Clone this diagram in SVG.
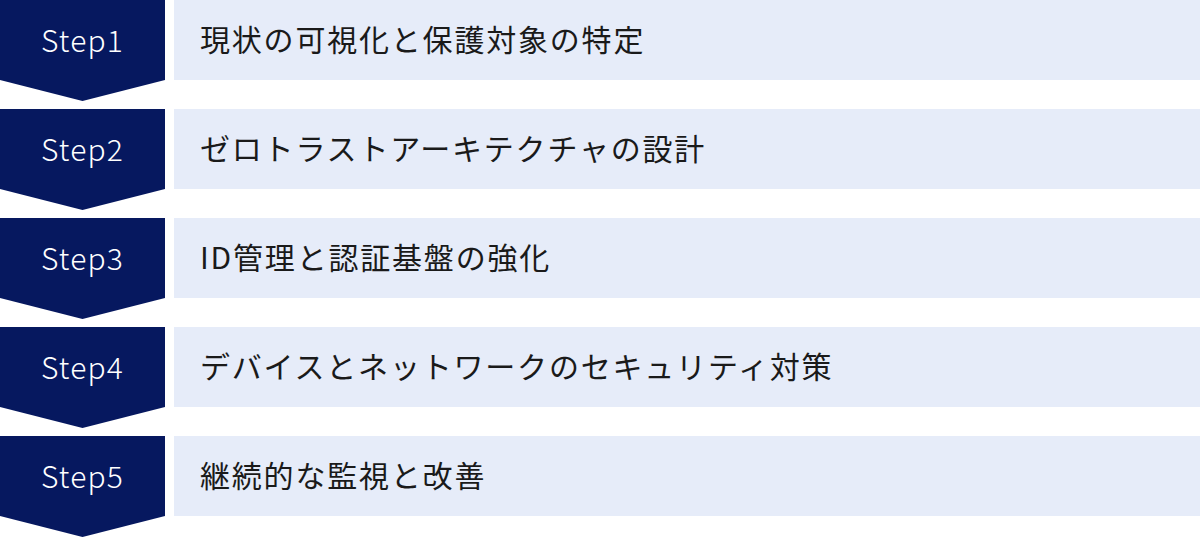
<svg xmlns="http://www.w3.org/2000/svg" width="1200" height="538" viewBox="0 0 1200 538">
<style>
.arrow{fill:#06185f}
.box{fill:#e6ecf9}
.step{font-family:"Noto Sans CJK JP","Noto Sans",sans-serif;font-size:30px;font-weight:300;fill:#ffffff;text-anchor:middle;letter-spacing:1.2px}
.label{font-family:"Noto Sans CJK JP","Noto Sans",sans-serif;font-size:30px;fill:#1a1a1a;letter-spacing:1.8px}
</style>
<rect width="1200" height="538" fill="#ffffff"/>
<g id="step1">
<polygon class="arrow" points="0,0 165,0 165,80 82.5,101 0,80"/>
<rect class="box" x="174" y="0" width="1026" height="80"/>
<text class="step" x="82.5" y="52">Step1</text>
<text class="label" x="200" y="51">現状の可視化と保護対象の特定</text>
</g>
<g id="step2">
<polygon class="arrow" points="0,109 165,109 165,189 82.5,210 0,189"/>
<rect class="box" x="174" y="109" width="1026" height="80"/>
<text class="step" x="82.5" y="161">Step2</text>
<text class="label" x="200" y="160">ゼロトラストアーキテクチャの設計</text>
</g>
<g id="step3">
<polygon class="arrow" points="0,218 165,218 165,298 82.5,319 0,298"/>
<rect class="box" x="174" y="218" width="1026" height="80"/>
<text class="step" x="82.5" y="270">Step3</text>
<text class="label" x="200" y="269">ID管理と認証基盤の強化</text>
</g>
<g id="step4">
<polygon class="arrow" points="0,327 165,327 165,407 82.5,428 0,407"/>
<rect class="box" x="174" y="327" width="1026" height="80"/>
<text class="step" x="82.5" y="379">Step4</text>
<text class="label" x="200" y="378">デバイスとネットワークのセキュリティ対策</text>
</g>
<g id="step5">
<polygon class="arrow" points="0,436 165,436 165,516 82.5,537 0,516"/>
<rect class="box" x="174" y="436" width="1026" height="80"/>
<text class="step" x="82.5" y="488">Step5</text>
<text class="label" x="200" y="487">継続的な監視と改善</text>
</g>
<g id="connectors"></g>
</svg>
